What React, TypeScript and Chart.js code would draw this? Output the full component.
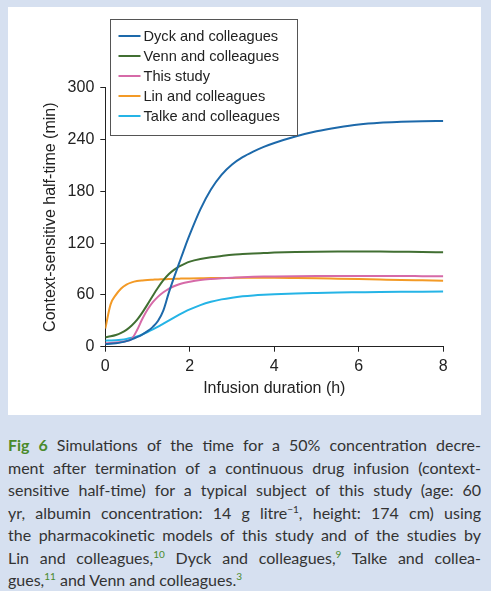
import { useEffect, useRef } from "react";
import { Chart, registerables, type ChartConfiguration, type Plugin } from "chart.js";

Chart.register(...registerables);

const durations = [
  0, 0.125, 0.25, 0.375, 0.5, 0.625, 0.75, 0.875, 1, 1.125, 1.25, 1.375, 1.5, 1.625, 1.75, 1.875, 2, 2.25, 2.5,
  2.75, 3, 3.25, 3.5, 3.75, 4, 4.5, 5, 5.5, 6, 6.5, 7, 7.5, 8,
];

const dyck = [
  3, 3.3, 4, 5, 6.5, 8.5, 11, 14, 18, 23, 30, 42, 62, 80, 97, 114, 130, 159, 182, 199, 211, 219.5, 226, 231.5, 236,
  243.5, 249.5, 254, 257.5, 259.5, 260.5, 261.2, 261.5,
];
const venn = [
  11, 12, 13.5, 16, 19.5, 24.5, 31, 39.5, 49, 59, 68.5, 77, 84, 89, 93, 96, 98.5, 101.5, 103.5, 105, 106.5, 107.3,
  108, 108.5, 109, 109.6, 110, 110.3, 110.4, 110.3, 110, 109.7, 109.3,
];
const thisStudy = [
  4, 4.3, 4.8, 5.5, 6.5, 9, 19, 32, 43, 51.5, 58, 63, 67, 70, 72.3, 74, 75.3, 77.2, 78.4, 79.3, 80, 80.5, 80.9, 81.2,
  81.4, 81.7, 81.9, 82, 82, 82, 81.9, 81.7, 81.5,
];
const lin = [
  21, 49, 60, 67.5, 72, 74.5, 76, 76.8, 77.3, 77.6, 77.9, 78.1, 78.4, 78.6, 78.8, 79, 79.1, 79.3, 79.5, 79.6, 79.7,
  79.8, 79.8, 79.8, 79.8, 79.6, 79.3, 78.8, 78.3, 77.8, 77.3, 76.9, 76.5,
];
const talke = [
  7, 7.2, 7.5, 8.1, 9, 10.3, 12, 14.3, 17, 20, 23.3, 26.8, 30.3, 33.8, 37.2, 40.4, 43.3, 48.2, 52, 54.8, 56.8, 58.3,
  59.4, 60.2, 60.8, 61.7, 62.3, 62.8, 63.1, 63.4, 63.6, 63.7, 63.8,
];

const seriesLabels = ["Dyck and colleagues", "Venn and colleagues", "This study", "Lin and colleagues", "Talke and colleagues"];
const seriesValues = [dyck, venn, thisStudy, lin, talke];
const seriesColors = ["#1d69aa", "#416f32", "#d66aa8", "#f39a26", "#25b4e6"];

const xTicks = [0, 2, 4, 6, 8];
const yTicks = [0, 60, 120, 180, 240, 300];

const axisFont = { family: "'Liberation Sans', Arial, sans-serif", size: 16 };
const ink = "#222";

// boxed legend drawn above the plot, partly overlapping it
const boxedLegend: Plugin<"line"> = {
  id: "boxedLegend",
  afterDraw(chart) {
    const { ctx } = chart;
    const left = 102.5;
    const top = 12.5;
    const width = 187;
    const height = 116;
    ctx.save();
    ctx.fillStyle = "#fff";
    ctx.fillRect(left, top, width, height);
    ctx.strokeStyle = "#555";
    ctx.lineWidth = 1;
    ctx.strokeRect(left, top, width, height);
    ctx.font = "14.6px 'Liberation Sans', Arial, sans-serif";
    ctx.textBaseline = "middle";
    chart.data.datasets.forEach((ds, i) => {
      const y = top + 16.5 + i * 20;
      ctx.strokeStyle = ds.borderColor as string;
      ctx.lineWidth = 2;
      ctx.beginPath();
      ctx.moveTo(left + 8, y);
      ctx.lineTo(left + 30, y);
      ctx.stroke();
      ctx.fillStyle = ink;
      ctx.fillText(ds.label ?? "", left + 33, y + 0.5);
    });
    ctx.restore();
  },
};

function HalfTimeChart() {
  const canvasRef = useRef<HTMLCanvasElement | null>(null);

  useEffect(() => {
    const canvas = canvasRef.current;
    if (!canvas) {
      return;
    }

    const config: ChartConfiguration<"line"> = {
      type: "line",
      data: {
        datasets: seriesLabels.map((label, i) => ({
          label,
          data: durations.map((x, j) => ({ x, y: seriesValues[i][j] })),
          borderColor: seriesColors[i],
          backgroundColor: seriesColors[i],
          borderWidth: 2,
          pointRadius: 0,
          cubicInterpolationMode: "monotone",
          fill: false,
        })),
      },
      options: {
        responsive: false,
        animation: false,
        layout: { padding: { left: 0, right: 37.7, top: 80.7, bottom: 0 } },
        plugins: {
          legend: { display: false },
          tooltip: { enabled: false },
        },
        scales: {
          x: {
            type: "linear",
            min: 0,
            max: 8,
            afterFit(scale) {
              scale.height = 68.3;
            },
            afterBuildTicks(scale) {
              scale.ticks = xTicks.map((value) => ({ value }));
            },
            ticks: { color: ink, font: axisFont, padding: 5, maxRotation: 0 },
            grid: { drawOnChartArea: false, drawTicks: true, tickLength: 5, color: ink },
            border: { display: true, color: ink, width: 1 },
            title: {
              display: true,
              text: "Infusion duration (h)",
              color: ink,
              font: axisFont,
              padding: { top: 0, bottom: 16.6 },
            },
          },
          y: {
            type: "linear",
            min: 0,
            max: 300,
            afterFit(scale) {
              scale.width = 97.3;
            },
            afterBuildTicks(scale) {
              scale.ticks = yTicks.map((value) => ({ value }));
            },
            ticks: { color: ink, font: axisFont, padding: 6 },
            grid: { drawOnChartArea: false, drawTicks: true, tickLength: 5, color: ink },
            border: { display: true, color: ink, width: 1 },
            title: {
              display: true,
              text: "Context-sensitive half-time (min)",
              color: ink,
              font: axisFont,
              padding: { top: 32.9, bottom: 0 },
            },
          },
        },
      },
      plugins: [boxedLegend],
    };

    const chart = new Chart(canvas, config);
    return () => {
      chart.destroy();
    };
  }, []);

  return <canvas ref={canvasRef} width={473} height={408} style={{ display: "block", width: 473, height: 408 }} />;
}

const green = "#4a8a2c";
const supStyle = { color: green, fontSize: "10px", lineHeight: 0, verticalAlign: "6px" } as const;
const lineStyle = { textAlign: "justify", textAlignLast: "justify", whiteSpace: "nowrap" } as const;

export default function App() {
  return (
    <div
      style={{
        position: "absolute",
        left: 0,
        top: 0,
        width: 491,
        height: 591,
        background: "#d6e0f0",
        overflow: "hidden",
      }}
    >
      <div style={{ position: "absolute", left: 8, top: 7, width: 473, height: 408, background: "#fff" }}>
        <HalfTimeChart />
      </div>
      <div
        style={{
          position: "absolute",
          left: 8,
          top: 434,
          width: 473,
          fontFamily: "Lato, 'Noto Sans', sans-serif",
          fontSize: "16px",
          lineHeight: "22.5px",
          color: "#333",
        }}
      >
        <div style={lineStyle}>
          <span style={{ color: green, fontWeight: 700 }}>Fig 6</span> Simulations of the time for a 50% concentration decre-
        </div>
        <div style={lineStyle}>ment after termination of a continuous drug infusion (context-</div>
        <div style={lineStyle}>sensitive half-time) for a typical subject of this study (age: 60</div>
        <div style={lineStyle}>
          yr, albumin concentration: 14 g litre<sup style={{ ...supStyle, color: "#333" }}>−1</sup>, height: 174 cm) using
        </div>
        <div style={lineStyle}>the pharmacokinetic models of this study and of the studies by</div>
        <div style={lineStyle}>
          Lin and colleagues,<sup style={supStyle}>10</sup> Dyck and colleagues,<sup style={supStyle}>9</sup> Talke and collea-
        </div>
        <div>
          gues,<sup style={supStyle}>11</sup> and Venn and colleagues.<sup style={supStyle}>3</sup>
        </div>
      </div>
    </div>
  );
}
